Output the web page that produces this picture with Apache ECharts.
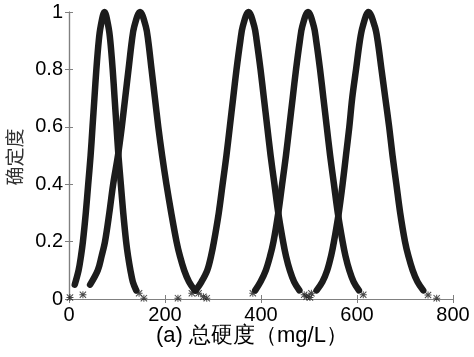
<!DOCTYPE html>
<html><head><meta charset="utf-8">
<script src="https://cdn.jsdelivr.net/npm/echarts@6/dist/echarts.min.js"></script>
<style>html,body{margin:0;padding:0;background:#fff}#c{width:474px;height:357px}</style>
</head><body><div id="c"></div>
<script>
// x ticks / y ticks
const xTicks = [0, 200, 400, 600, 800];
const yTicks = [0, 0.2, 0.4, 0.6, 0.8, 1];
const xLabel = '(a) 总硬度（mg/L）';
const yLabel = '确定度';

// dense band (centre of cloud drops) for each curve, [x, certainty]
const curve1 = [[12,0.05],[20,0.1],[25,0.15],[29,0.2],[35,0.3],[40,0.4],[45,0.5],[49,0.6],[53,0.7],[57,0.8],[62,0.9],[66,0.95],[74,1],[82,0.95],[86,0.9],[91,0.8],[95,0.7],[99,0.6],[103,0.5],[108,0.4],[113,0.3],[119,0.2],[123,0.15],[128,0.1],[133,0.06],[140,0.03]];
const curve2 = [[44,0.05],[60,0.1],[68,0.15],[75,0.2],[84,0.3],[92,0.4],[102,0.5],[110,0.6],[117,0.7],[124,0.8],[131,0.9],[136,0.95],[148,1],[160,0.95],[165,0.9],[172,0.8],[179,0.7],[186,0.6],[194,0.5],[203,0.4],[213,0.3],[224,0.2],[231,0.15],[240,0.1],[250,0.06],[262,0.03]];
const curve3 = [[264,0.03],[276,0.06],[288,0.1],[296,0.15],[302,0.2],[312,0.3],[320,0.4],[328,0.5],[335,0.6],[342,0.7],[349,0.8],[357,0.9],[362,0.95],[374,1],[386,0.95],[391,0.9],[399,0.8],[406,0.7],[413,0.6],[420,0.5],[428,0.4],[436,0.3],[446,0.2],[452,0.15],[460,0.1],[469,0.06],[480,0.03]];
const curve4 = [[388,0.03],[399,0.06],[410,0.1],[419,0.15],[426,0.2],[436,0.3],[444,0.4],[452,0.5],[459,0.6],[466,0.7],[473,0.8],[481,0.9],[486,0.95],[498,1],[510,0.95],[515,0.9],[523,0.8],[530,0.7],[537,0.6],[544,0.5],[552,0.4],[560,0.3],[570,0.2],[576,0.15],[584,0.1],[593,0.06],[604,0.03]];
const curve5 = [[516,0.03],[528,0.06],[538,0.1],[546,0.15],[552,0.2],[562,0.3],[570,0.4],[577,0.5],[584,0.6],[590,0.7],[598,0.8],[606,0.9],[612,0.95],[624,1],[637,0.95],[643,0.9],[651,0.8],[659,0.7],[667,0.6],[674,0.5],[682,0.4],[690,0.3],[700,0.2],[707,0.15],[716,0.1],[726,0.06],[738,0.03]];
// isolated drops in the tails
const tailDrops = [[2,0.005],[146,0.02],[156,0.003],[29,0.015],[270,0.02],[280,0.008],[287,0.003],[227,0.003],[256,0.02],[490,0.015],[502,0.005],[383,0.02],[613,0.015],[495,0.008],[505,0.02],[748,0.014],[766,0.003]];

const star = 'path://M4.3,0h1.4v10h-1.4z M0,4.3h10v1.4h-10z M1,0l9,9l-1,1l-9,-9z M9,0l1,1l-9,9l-1,-1z';
const ink = '#1c1c1c';
const frame = '#808080';
const font = 'Liberation Sans, Arial, sans-serif';

function band(data){
  return {type:'line', data, smooth:0.35, showSymbol:false, clip:false,
    lineStyle:{color:ink, width:6.5, cap:'round', join:'round'}, z:3};
}
const chart = echarts.init(document.getElementById('c'), null, {renderer:'canvas'});
const axCommon = {axisLine:{show:true,lineStyle:{color:frame,width:1.2}}, axisTick:{show:true,inside:true,length:4,lineStyle:{color:frame}}, splitLine:{show:false}};
chart.setOption({
  animation:false,
  backgroundColor:'#fff',
  grid:{left:69, right:21, top:12, bottom:58, containLabel:false},
  xAxis:[
    Object.assign({type:'value', min:0, max:800, interval:200, position:'bottom',
      axisLabel:{color:'#000', fontSize:20, fontFamily:font, margin:6, formatter:v=>xTicks.includes(v)?String(v):''}}, axCommon),
    Object.assign({type:'value', min:0, max:800, interval:200, position:'top', axisLabel:{show:false}}, axCommon)
  ],
  yAxis:[
    Object.assign({type:'value', min:0, max:1, interval:0.2, position:'left',
      axisLabel:{color:'#000', fontSize:20, fontFamily:font, margin:6, formatter:v=>{const t=yTicks.find(k=>Math.abs(k-v)<1e-9);return t===undefined?'':String(t);}}}, axCommon),
    Object.assign({type:'value', min:0, max:1, interval:0.2, position:'right', axisLabel:{show:false}}, axCommon)
  ],
  graphic:[
    {type:'text', left:156, top:325, style:{text:xLabel, fill:'#000', font:'22px '+font}},
    {type:'text', x:15, y:157, rotation:Math.PI/2, style:{text:yLabel, fill:'#333', font:'19px "Noto Sans CJK SC"', align:'center', verticalAlign:'middle'}}
  ],
  series:[
    band(curve1), band(curve2), band(curve3), band(curve4), band(curve5),
    {type:'scatter', data:tailDrops, symbol:star, symbolSize:7, clip:false, itemStyle:{color:ink}, z:4}
  ]
});
</script></body></html>
